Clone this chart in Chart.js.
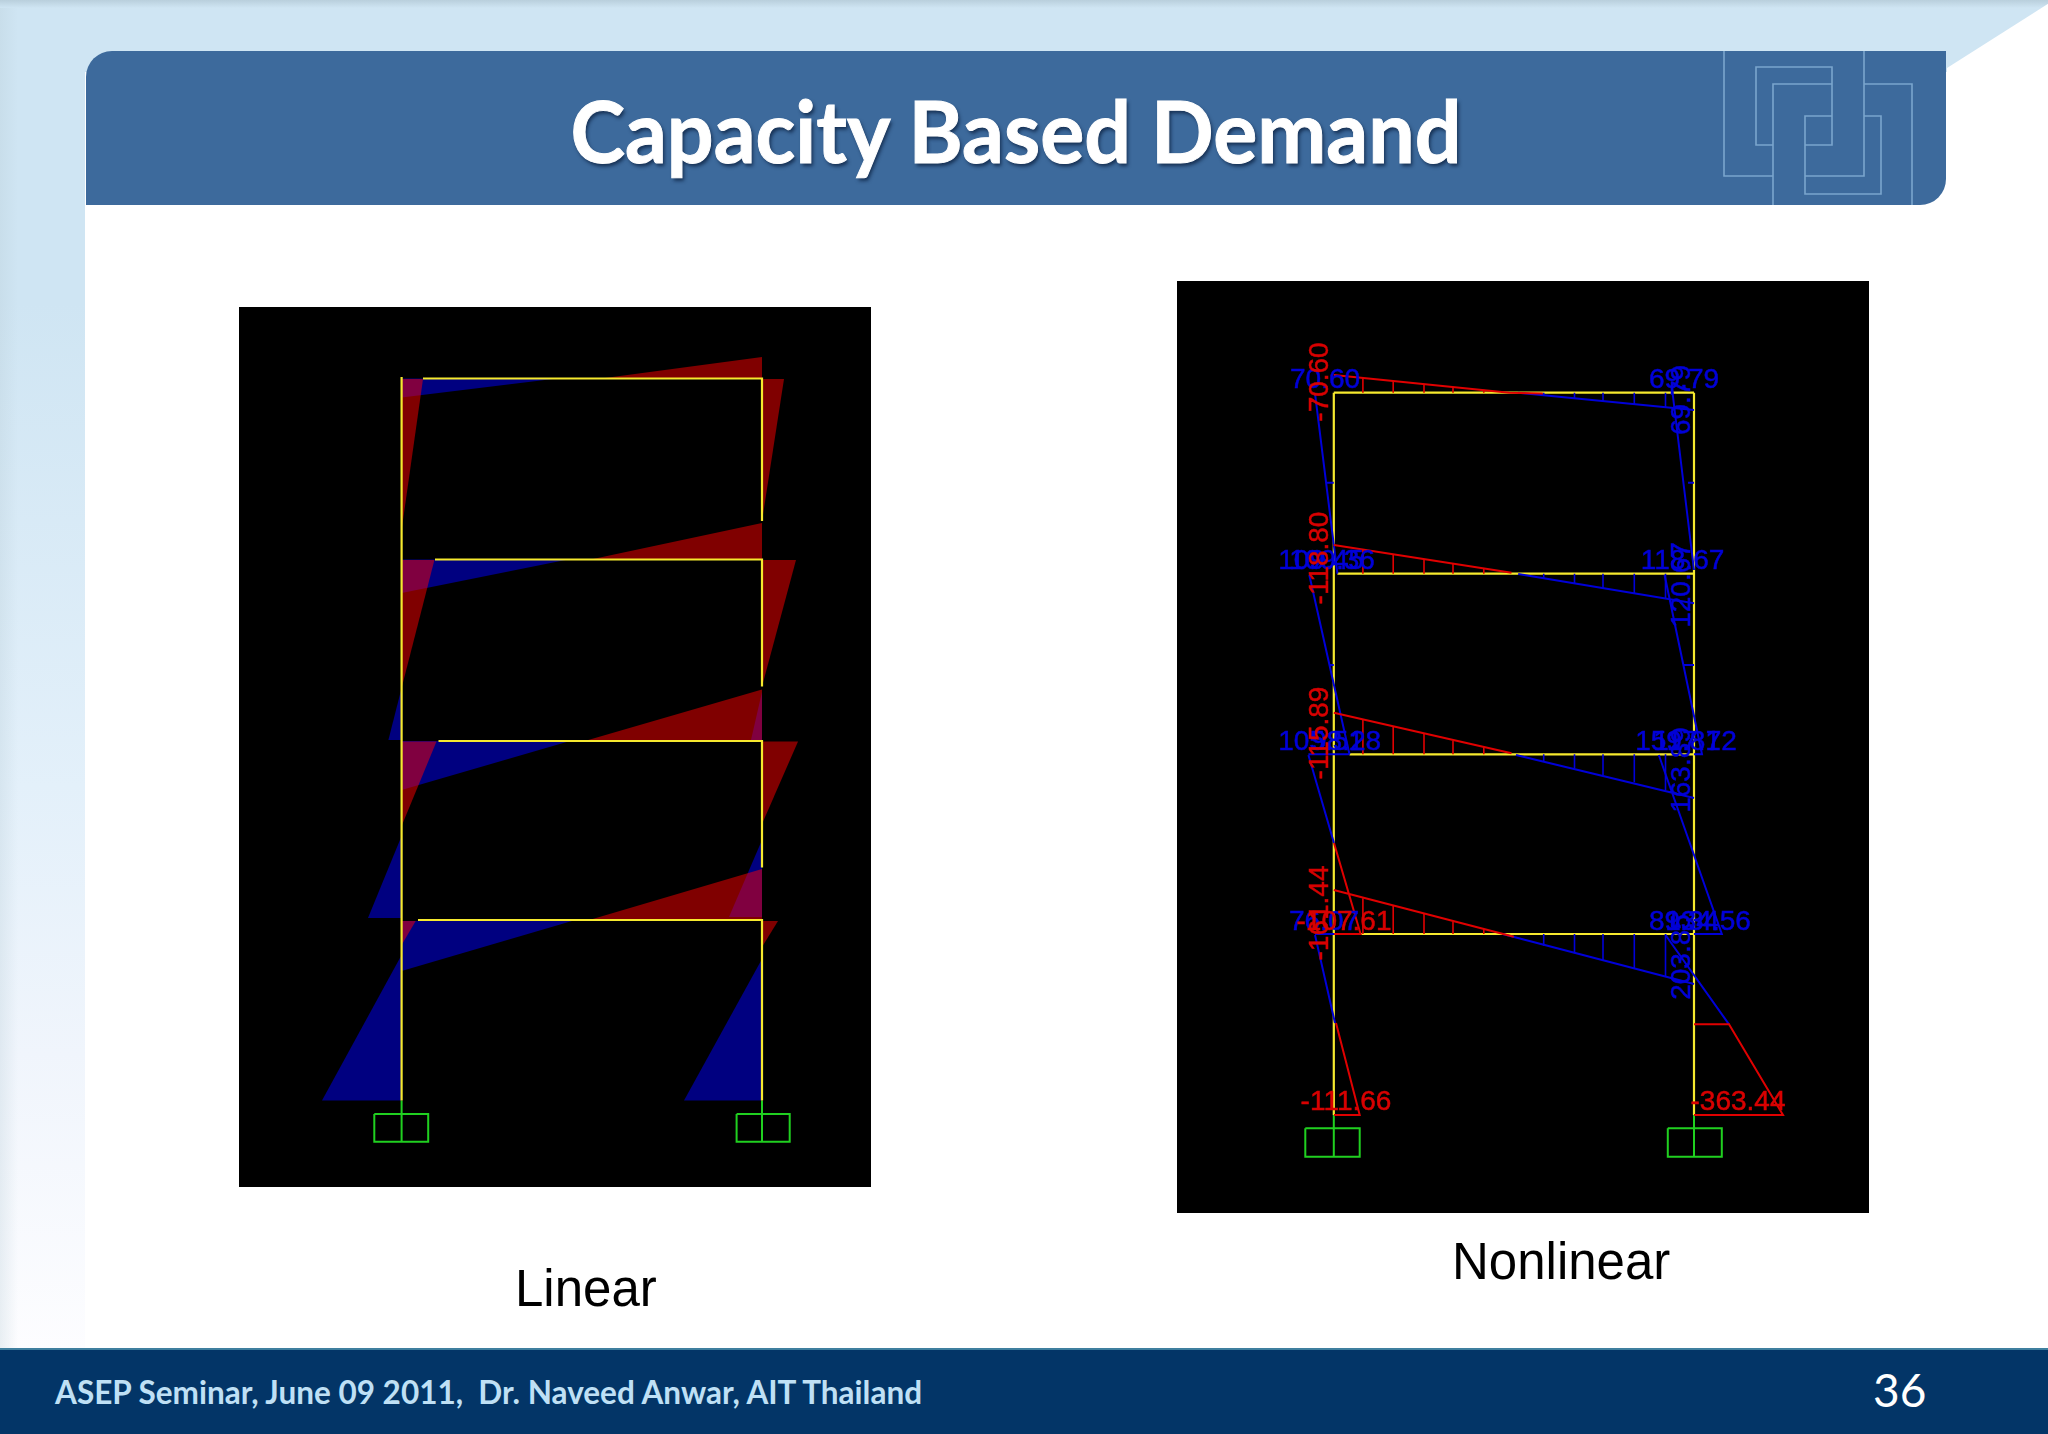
<!DOCTYPE html>
<html><head><meta charset="utf-8">
<script src="https://cdn.jsdelivr.net/npm/chart.js@4"></script>
<style>
html,body{margin:0;padding:0;width:2048px;height:1434px;overflow:hidden;background:#fff}
.abs{position:absolute}
#topBand{left:0;top:0;width:2048px;height:72px;background:linear-gradient(#b9cfdc 0,#cfe5f3 8px);clip-path:polygon(0 0,2054px 0,1947px 68px,1947px 72px,0 72px)}
#leftBand{left:0;top:8px;width:85px;height:1341px;background:linear-gradient(90deg,rgba(185,205,215,.3) 0,rgba(255,255,255,0) 18px),linear-gradient(#cfe5f3 0,#cfe5f3 22%,#e3f0fa 58%,#f0f5fc 78%,#fdfdff 100%)}
#banner{left:85.5px;top:51px;width:1860.5px;height:153.5px;background:#3d6a9c;border-radius:26px 0 26px 0}
#title{left:0;top:53px;width:2032px;text-align:center;font:bold 87px Lato,sans-serif;line-height:153px;color:#fff;text-shadow:2px 3px 4px rgba(10,30,60,.75);transform:scaleX(.948);-webkit-text-stroke:1px #fff}
#footer{left:0;top:1348px;width:2048px;height:86px;background:#033567;border-top:2px solid #3f7f9f;box-sizing:border-box}
#foot{left:55px;top:1371px;font:bold 31.5px Lato,sans-serif;line-height:42px;color:#bfe0f5;white-space:pre}
#page{left:1873px;top:1362px;font:46px Lato,sans-serif;line-height:56px;color:#fff}
.cap{font:51px "Liberation Sans",Arial,sans-serif;color:#000;line-height:60px;white-space:pre}
.panel{background:#000}
canvas{display:block}
</style></head><body>
<div class="abs" id="topBand"></div>
<div class="abs" id="leftBand"></div>
<div class="abs" id="banner"></div>
<svg class="abs" style="left:1px;top:0" width="2047" height="210" fill="none" stroke="#7aa5cd" stroke-width="1.6">
<path d="M1723 51V176H1772M1863 51V176H1804M1772 145H1755V67H1831V145H1804M1772 205V84H1831M1863 84H1911V205M1831 116H1804V194H1880V116H1863"/>
</svg>
<div class="abs" id="title">Capacity Based Demand</div>
<div class="abs panel" style="left:239px;top:307px;width:632px;height:880px"><canvas id="linearChart" width="632" height="880"></canvas></div>
<div class="abs panel" style="left:1177px;top:281px;width:692px;height:932px"><canvas id="nonlinearChart" width="692" height="932"></canvas></div>
<div class="abs cap" style="left:515px;top:1259px">Linear</div>
<div class="abs cap" style="left:1452px;top:1232px">Nonlinear</div>
<div class="abs" id="footer"></div>
<div class="abs" id="foot">ASEP Seminar, June 09 2011,  Dr. Naveed Anwar, AIT Thailand</div>
<div class="abs" id="page">36</div>
<script>
// ---- Linear model: moment diagrams as filled polygons
const linearBlueAreas = [
  [[401.6,378.5],[557,378.5],[401.6,397.5]],
  [[401.6,559.5],[568,559.5],[401.6,593]],
  [[401.6,688],[388.4,740],[401.6,740]],
  [[762,692],[751,740],[762,740]],
  [[401.6,741],[570,741],[401.6,790]],
  [[401.6,836],[368,918],[401.6,918]],
  [[762,840],[729,917],[762,917]],
  [[401.6,921],[572,921],[401.6,971]],
  [[401.6,955],[322,1100.4],[401.6,1100.4]],
  [[762,959],[684,1100.4],[762,1100.4]]
];
const linearRedAreas = [
  [[605,378],[762,357],[762,378]],
  [[401.6,379],[423,379],[401.6,530]],
  [[762,379],[784,379],[762,521]],
  [[593,559],[762,523],[762,559]],
  [[401.6,560],[434.4,560],[401.6,688]],
  [[762,560],[796,560],[762,686.5]],
  [[586.5,740.5],[762,689.6],[762,740.5]],
  [[401.6,741.5],[436.5,741.5],[401.6,826]],
  [[762,741.5],[798,741.5],[762,824]],
  [[591,919.5],[762,869],[762,919.5]],
  [[401.6,921],[415.7,921],[401.6,945]],
  [[762,921],[778,921],[762,947]]
];
const linearFrame = [
  [[401.6,377],[401.6,1100.4]],
  [[423,378.5],[762,378.5],[762,521]],
  [[435,559.5],[762,559.5],[762,686.5]],
  [[438.5,741],[762,741],[762,867.5]],
  [[418,920],[762,920],[762,1100.4]]
];
const linearSupports = [
  [[401.6,1100.4],[401.6,1141.7]],
  [[374.3,1114],[428.2,1114],[428.2,1141.7],[374.3,1141.7],[374.3,1114]],
  [[762,1100.4],[762,1141.7]],
  [[736.6,1114],[789.7,1114],[789.7,1141.7],[736.6,1141.7],[736.6,1114]]
];
// ---- Nonlinear model
const beamStationsRed = [1362.9,1393.2,1424,1453,1483.8];
const beamStationsBlue = [1543.7,1574.5,1603,1634.3,1665.5];
const beamLevels = [392.7,573.7,754.3,934];
const beamRedTops = [
  [378,381,384,386.7,389.7],
  [549.3,554,559,563.3,568.3],
  [719.3,726.7,733.3,740.7,747.3],
  [898.3,905,913.3,921.7,929]
];
const beamBlueBottoms = [
  [395,398,401,404,407],
  [578.3,583.3,588,593.3,598.7],
  [761,768.3,775,782.3,790],
  [945.7,953.3,960,968.3,976.7]
];
const nonlinearRedLines = [
  [[1333.8,375],[1509.3,392.7],[1542.8,393.5]],
  [[1333.8,545],[1511.5,572.7]],
  [[1333.8,712.7],[1511.5,753.3]],
  [[1333.8,890],[1513.8,936.7]],
  [[1334,843],[1360.6,934],[1334,934]],
  [[1336,1023],[1359.7,1115],[1334,1115]],
  [[1694,1024.3],[1729,1024.3],[1783,1115],[1694,1115]]
];
const nonlinearBlueLines = [
  [[1518.2,392.7],[1694,410]],
  [[1518.2,574],[1694,603.3]],
  [[1516,755],[1694,798]],
  [[1502.6,934],[1694,984]],
  [[1315,393.3],[1337.4,573.7]],
  [[1309.3,575],[1349.5,754.3]],
  [[1308.4,754.3],[1349.5,754.3]],
  [[1308.4,755],[1334,843]],
  [[1315,934],[1334,934]],
  [[1315,935],[1335,1023]],
  [[1672.2,390],[1694,570]],
  [[1664.6,575],[1702,754.3],[1694,754.3]],
  [[1658.8,755],[1721.8,934],[1694,934]],
  [[1665.5,935],[1729,1024.3]],
  [[1327,482.7],[1333.8,482.7]],
  [[1329,665],[1333.8,665]],
  [[1688,482.7],[1694,482.7]],
  [[1683,665],[1694,665]]
];
const nonlinearFrame = [
  [[1333.8,392.7],[1333.8,1115]],
  [[1694,392.7],[1694,1115]],
  [[1333.8,392.7],[1694,392.7]],
  [[1337.4,573.7],[1694,573.7]],
  [[1349.5,754.3],[1694,754.3]],
  [[1360.6,934],[1694,934]]
];
const nonlinearSupports = [
  [[1333.8,1115],[1333.8,1156.7]],
  [[1305.3,1128.3],[1359.7,1128.3],[1359.7,1156.7],[1305.3,1156.7],[1305.3,1128.3]],
  [[1694,1115],[1694,1156.7]],
  [[1667.8,1128.3],[1721.8,1128.3],[1721.8,1156.7],[1667.8,1156.7],[1667.8,1128.3]]
];
// value labels: text, x, y
const blueBeamLabels = [
  ["70.60",1325,380],["69.79",1684,380],
  ["109.45",1321,561],["109.36",1332,561],["118.67",1682.5,561],
  ["105.51",1321,742],["98.28",1346,742],["159.81",1678,742],["117.72",1695,742],
  ["76.07",1324,922],["89.34",1684,922],["134.56",1708,922]
];
const redBeamLabels = [["-107.61",1344,922],["-111.66",1346,1102],["-363.44",1738,1102]];
const redColumnLabels = [["-70.60",1320,382],["-118.80",1320,558],["-115.89",1320,733],["-161.44",1320,913]];
const blueColumnLabels = [["69.79",1682,400],["120.67",1682,585],["163.89",1682,770],["203.85",1682,957]];

const BLUE='#0000d8', RED='#e00000', YEL='#f6e92e', GRN='#20d020';
const toPts = segs => { const out=[]; segs.forEach(s=>{ s.forEach(p=>out.push({x:p[0],y:p[1]})); out.push({x:s[s.length-1][0],y:null}); }); return out; };
const lineSet = (segs,color,w) => ({data:toPts(segs),borderColor:color,borderWidth:w,backgroundColor:color,showLine:true,pointRadius:0,tension:0,fill:false});
const areaSet = (poly,color) => ({data:poly.concat([poly[0]]).map(p=>({x:p[0],y:p[1]})),backgroundColor:color,borderWidth:0,borderColor:'transparent',showLine:true,pointRadius:0,tension:0,fill:'shape'});
const ticks = (stations,tops,base) => stations.map((x,i)=>[[x,base],[x,tops[i]]]);

const labelPlugin = {
  id:'valueLabels',
  afterDatasetsDraw(chart,args,opts){
    const {ctx,scales:{x,y}}=chart;
    (opts.groups||[]).forEach(g=>{
      g.items.forEach(([t,px,py])=>{
        ctx.save();
        ctx.font='28px "Liberation Sans",Arial,sans-serif';
        ctx.fillStyle=g.color; ctx.strokeStyle=g.color; ctx.lineWidth=0.5;
        ctx.textAlign='center'; ctx.textBaseline='middle';
        ctx.translate(x.getPixelForValue(px),y.getPixelForValue(py));
        if(g.rot) ctx.rotate(-Math.PI/2);
        ctx.fillText(t,0,0);
        ctx.strokeText(t,0,0);
        ctx.restore();
      });
    });
  }
};
function makeChart(id,xr,yr,layers,groups){
  const ds=layers.slice().reverse().map((d,i)=>Object.assign(d,{order:i}));
  return new Chart(document.getElementById(id),{
    type:'scatter',
    data:{datasets:ds},
    plugins:[labelPlugin],
    options:{responsive:false,animation:false,devicePixelRatio:1,
      layout:{padding:0},
      scales:{x:{type:'linear',display:false,min:xr[0],max:xr[1]},y:{type:'linear',display:false,reverse:true,min:yr[0],max:yr[1]}},
      plugins:{legend:{display:false},tooltip:{enabled:false},valueLabels:{groups}}}
  });
}
// layers listed bottom to top
makeChart('linearChart',[239,871],[307,1187],[
  ...linearBlueAreas.map(p=>areaSet(p,'rgba(0,0,255,0.5)')),
  ...linearRedAreas.map(p=>areaSet(p,'rgba(255,0,0,0.5)')),
  lineSet(linearSupports,GRN,2),
  lineSet(linearFrame,YEL,2.2)
],[]);
const redTicks=[],blueTicks=[];
beamLevels.forEach((b,i)=>{
  redTicks.push(...ticks(beamStationsRed,beamRedTops[i],b));
  blueTicks.push(...ticks(beamStationsBlue,beamBlueBottoms[i],b));
});
makeChart('nonlinearChart',[1177,1869],[281,1213],[
  lineSet(nonlinearFrame,YEL,2.2),
  lineSet(nonlinearSupports,GRN,2),
  lineSet(redTicks,RED,1.6),
  lineSet(blueTicks,BLUE,1.6),
  lineSet(nonlinearBlueLines,BLUE,2),
  lineSet(nonlinearRedLines,RED,2)
],[
  {color:BLUE,rot:false,items:blueBeamLabels},
  {color:BLUE,rot:true,items:blueColumnLabels},
  {color:'#d80000',rot:true,items:redColumnLabels},
  {color:'#d80000',rot:false,items:redBeamLabels}
]);
</script>
</body></html>
